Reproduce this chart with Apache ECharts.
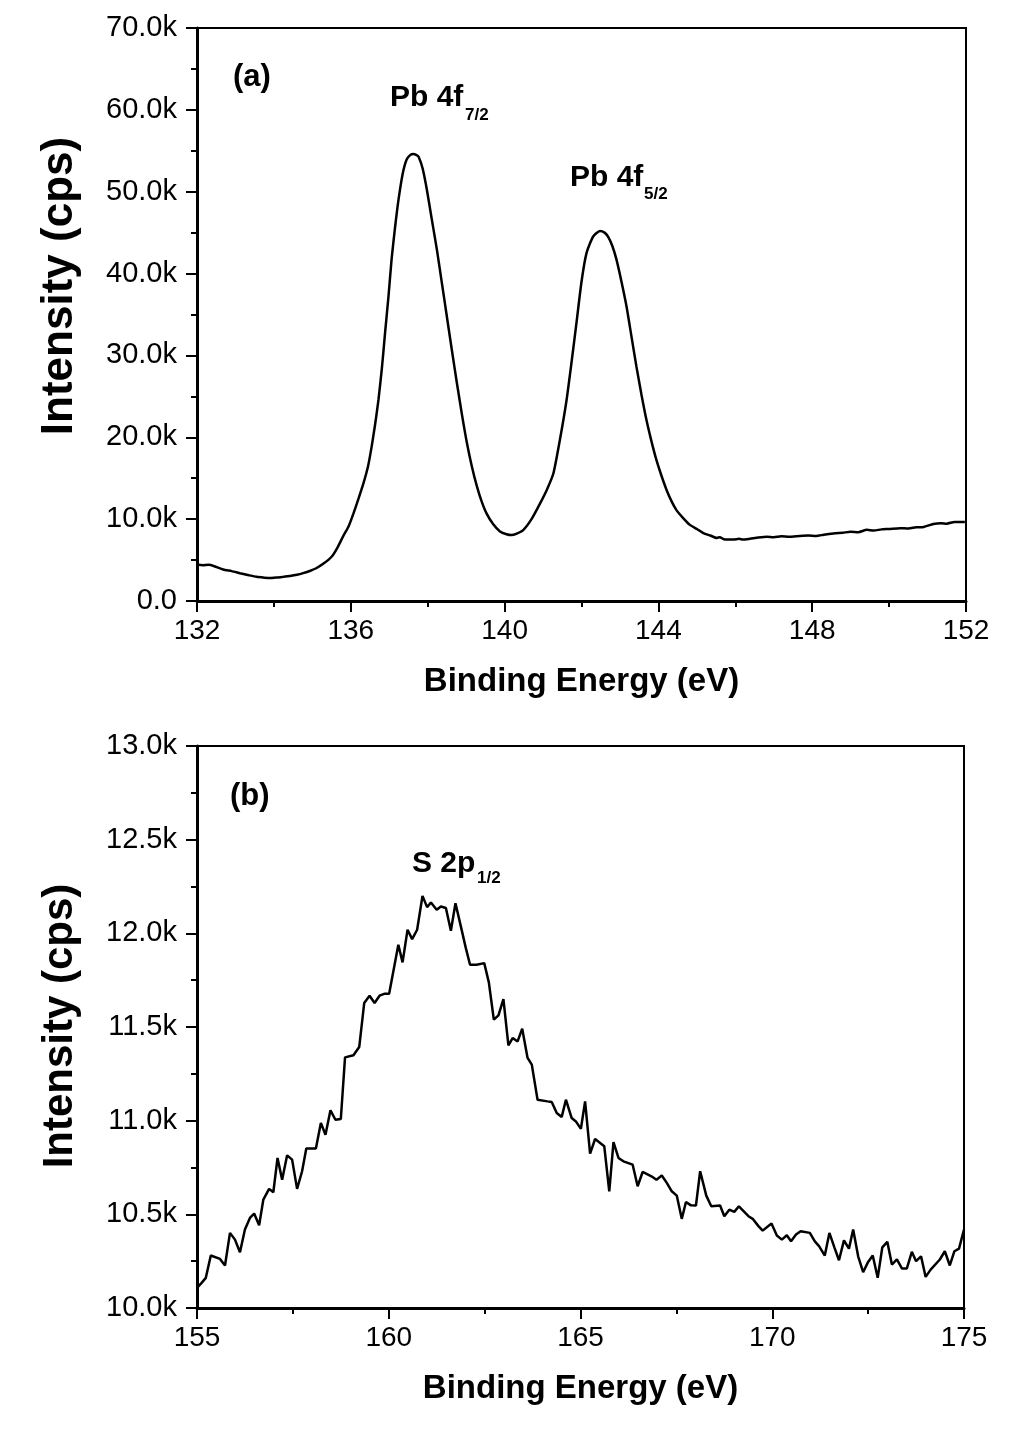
<!DOCTYPE html>
<html>
<head>
<meta charset="utf-8">
<title>XPS Pb 4f / S 2p</title>
<script src="https://cdn.jsdelivr.net/npm/echarts@6/dist/echarts.min.js"></script>
<style>
    html, body { margin: 0; padding: 0; background: #fff; }
    #chart { width: 1009px; height: 1429px; }
</style>
</head>
<body>
<div id="chart"></div>
<script>
    // (a) Pb 4f region
    var pbEnergy = [132.0, 132.15, 132.3, 132.45, 132.68, 132.9, 133.12, 133.35, 133.55, 133.75, 133.9, 134.1, 134.25, 134.42, 134.6, 134.76, 134.95, 135.1, 135.3, 135.5, 135.65, 135.8, 135.95, 136.07, 136.2, 136.33, 136.45, 136.54, 136.63, 136.72, 136.81, 136.89, 136.98, 137.06, 137.15, 137.24, 137.35, 137.45, 137.55, 137.63, 137.7, 137.76, 137.87, 137.98, 138.1, 138.24, 138.37, 138.5, 138.63, 138.76, 138.89, 139.02, 139.15, 139.28, 139.4, 139.53, 139.7, 139.88, 140.05, 140.18, 140.3, 140.49, 140.7, 140.92, 141.1, 141.27, 141.45, 141.61, 141.75, 141.87, 142.0, 142.13, 142.3, 142.48, 142.6, 142.69, 142.8, 142.91, 143.04, 143.17, 143.3, 143.43, 143.56, 143.69, 143.82, 143.95, 144.08, 144.21, 144.34, 144.47, 144.65, 144.82, 145.0, 145.17, 145.35, 145.52, 145.6, 145.7, 145.95, 146.1, 146.2, 146.38, 146.6, 146.82, 147.0, 147.2, 147.4, 147.68, 147.9, 148.1, 148.3, 148.55, 148.8, 149.0, 149.2, 149.42, 149.6, 149.8, 150.0, 150.28, 150.5, 150.7, 150.9, 151.15, 151.35, 151.5, 151.7, 151.97];
    var pbCounts = [4450, 4380, 4420, 4250, 3850, 3650, 3400, 3150, 2950, 2850, 2800, 2880, 2950, 3050, 3200, 3400, 3700, 4000, 4600, 5400, 6500, 7900, 9200, 10700, 12500, 14400, 16500, 18800, 21500, 24600, 28500, 32700, 37200, 41700, 45600, 49000, 52200, 53900, 54500, 54600, 54500, 54300, 52800, 50200, 46800, 42900, 38800, 34700, 30600, 26600, 22800, 19300, 16400, 14000, 12200, 10700, 9400, 8500, 8150, 8050, 8200, 8700, 10000, 11900, 13600, 15600, 20000, 24500, 29500, 34000, 39000, 42500, 44500, 45200, 45000, 44500, 43400, 41700, 39000, 36000, 32300, 28600, 25200, 22100, 19500, 17200, 15300, 13600, 12200, 11100, 10100, 9300, 8800, 8300, 8000, 7700, 7800, 7550, 7500, 7600, 7500, 7600, 7750, 7850, 7800, 7900, 7850, 7950, 8000, 7950, 8100, 8250, 8350, 8450, 8400, 8700, 8600, 8750, 8800, 8900, 8850, 9000, 9050, 9400, 9500, 9450, 9650, 9650];

    // (b) S 2p region
    var sEnergy = [155.0, 155.12, 155.23, 155.36, 155.6, 155.73, 155.86, 155.99, 156.12, 156.25, 156.38, 156.49, 156.62, 156.73, 156.88, 156.99, 157.1, 157.22, 157.35, 157.48, 157.61, 157.74, 157.85, 158.1, 158.23, 158.35, 158.48, 158.61, 158.75, 158.86, 159.08, 159.23, 159.36, 159.5, 159.63, 159.76, 159.88, 160.01, 160.25, 160.36, 160.49, 160.61, 160.74, 160.88, 161.0, 161.1, 161.25, 161.36, 161.49, 161.62, 161.74, 161.88, 162.01, 162.12, 162.29, 162.49, 162.61, 162.74, 162.86, 162.99, 163.12, 163.23, 163.36, 163.48, 163.62, 163.73, 163.88, 164.14, 164.25, 164.38, 164.51, 164.62, 164.77, 164.88, 165.01, 165.12, 165.25, 165.38, 165.62, 165.75, 165.86, 165.99, 166.12, 166.36, 166.49, 166.62, 166.85, 166.98, 167.12, 167.25, 167.38, 167.51, 167.64, 167.75, 167.88, 168.01, 168.12, 168.28, 168.41, 168.64, 168.75, 168.88, 169.01, 169.13, 169.38, 169.49, 169.64, 169.75, 169.98, 170.12, 170.25, 170.38, 170.49, 170.62, 170.74, 170.98, 171.11, 171.22, 171.37, 171.49, 171.62, 171.74, 171.87, 172.0, 172.11, 172.24, 172.37, 172.5, 172.62, 172.75, 172.87, 173.0, 173.12, 173.25, 173.38, 173.51, 173.64, 173.75, 173.88, 174.0, 174.13, 174.37, 174.5, 174.63, 174.75, 174.87, 175.0];
    var sCounts = [10108, 10134, 10161, 10280, 10262, 10227, 10401, 10365, 10298, 10419, 10481, 10504, 10442, 10579, 10636, 10618, 10801, 10685, 10815, 10792, 10636, 10730, 10851, 10851, 10988, 10925, 11055, 11005, 11009, 11338, 11349, 11393, 11628, 11667, 11628, 11667, 11677, 11677, 11939, 11845, 12019, 11969, 12019, 12200, 12140, 12165, 12126, 12143, 12135, 12014, 12161, 12037, 11921, 11832, 11832, 11841, 11738, 11539, 11562, 11649, 11402, 11441, 11423, 11491, 11335, 11299, 11112, 11103, 11100, 11041, 11020, 11112, 11014, 10996, 10956, 11103, 10824, 10902, 10863, 10623, 10886, 10801, 10783, 10765, 10650, 10726, 10703, 10685, 10707, 10668, 10623, 10600, 10476, 10566, 10548, 10547, 10730, 10600, 10543, 10547, 10490, 10525, 10513, 10543, 10490, 10476, 10437, 10413, 10451, 10387, 10365, 10388, 10356, 10392, 10410, 10401, 10356, 10330, 10280, 10401, 10324, 10255, 10361, 10317, 10419, 10276, 10191, 10246, 10280, 10161, 10324, 10353, 10232, 10259, 10211, 10211, 10300, 10250, 10276, 10166, 10205, 10259, 10303, 10227, 10303, 10317, 10419];

    var font = 'Liberation Sans, Arial, Helvetica, sans-serif';

    function zip(xs, ys) {
        return xs.map(function (x, i) { return [x, ys[i]]; });
    }

    function kLabel(v) {
        if (v === 0) return '0.0';
        return (v / 1000).toFixed(1) + 'k';
    }

    function xAxisFor(grid, min, max, step) {
        return {
            type: 'value',
            gridIndex: grid,
            min: min,
            max: max,
            interval: step,
            name: 'Binding Energy (eV)',
            nameLocation: 'middle',
            nameGap: 64,
            nameTextStyle: { color: '#000', fontSize: 33, fontWeight: 'bold', fontFamily: font },
            axisLine: { lineStyle: { color: '#000', width: 3 } },
            axisTick: { inside: false, length: 11, lineStyle: { color: '#000', width: 2 } },
            minorTick: { show: true, splitNumber: 2, length: 6, lineStyle: { color: '#000', width: 2 } },
            splitLine: { show: false },
            axisLabel: { color: '#000', fontSize: 28, fontFamily: font, margin: 16 }
        };
    }

    // y titles are drawn as graphic text below, so no axis name here
    function yAxisFor(grid, min, max, step) {
        return {
            type: 'value',
            gridIndex: grid,
            min: min,
            max: max,
            interval: step,
            axisLine: { show: true, lineStyle: { color: '#000', width: 3 } },
            axisTick: { show: true, inside: false, length: 11, lineStyle: { color: '#000', width: 2 } },
            minorTick: { show: true, splitNumber: 2, length: 6, lineStyle: { color: '#000', width: 2 } },
            splitLine: { show: false },
            axisLabel: { color: '#000', fontSize: 29, fontFamily: font, margin: 20, formatter: kLabel }
        };
    }

    function label(text, x, y, size, rotation) {
        return {
            type: 'text',
            x: x,
            y: y,
            rotation: rotation || 0,
            style: {
                text: text,
                fill: '#000',
                font: 'bold ' + size + 'px ' + font,
                verticalAlign: 'middle',
                align: rotation ? 'center' : 'left'
            }
        };
    }

    var myChart = echarts.init(document.getElementById('chart'));
    myChart.setOption({
        animation: false,
        backgroundColor: '#fff',
        grid: [
            { left: 197, top: 28, width: 769, height: 573, show: true, borderColor: '#000', borderWidth: 2 },
            { left: 197, top: 746, width: 767, height: 562, show: true, borderColor: '#000', borderWidth: 2 }
        ],
        xAxis: [
            xAxisFor(0, 132, 152, 4),
            xAxisFor(1, 155, 175, 5)
        ],
        yAxis: [
            yAxisFor(0, 0, 70000, 10000),
            yAxisFor(1, 10000, 13000, 500)
        ],
        series: [
            {
                name: 'Pb 4f',
                type: 'line',
                xAxisIndex: 0,
                yAxisIndex: 0,
                data: zip(pbEnergy, pbCounts),
                showSymbol: false,
                smooth: 0.2,
                lineStyle: { color: '#000', width: 2.5 }
            },
            {
                name: 'S 2p',
                type: 'line',
                xAxisIndex: 1,
                yAxisIndex: 1,
                data: zip(sEnergy, sCounts),
                showSymbol: false,
                lineStyle: { color: '#000', width: 2.5 }
            }
        ],
        graphic: [
            label('Intensity (cps)', 60, 286, 44, Math.PI / 2),
            label('Intensity (cps)', 60, 1026, 42, Math.PI / 2),
            label('(a)', 233, 77, 31),
            label('Pb 4f', 390, 98, 30),
            label('7/2', 465, 115, 17),
            label('Pb 4f', 570, 178, 30),
            label('5/2', 644, 194, 17),
            label('(b)', 230, 796, 31),
            label('S 2p', 412, 864, 30),
            label('1/2', 477, 878, 17)
        ]
    });
</script>
</body>
</html>
